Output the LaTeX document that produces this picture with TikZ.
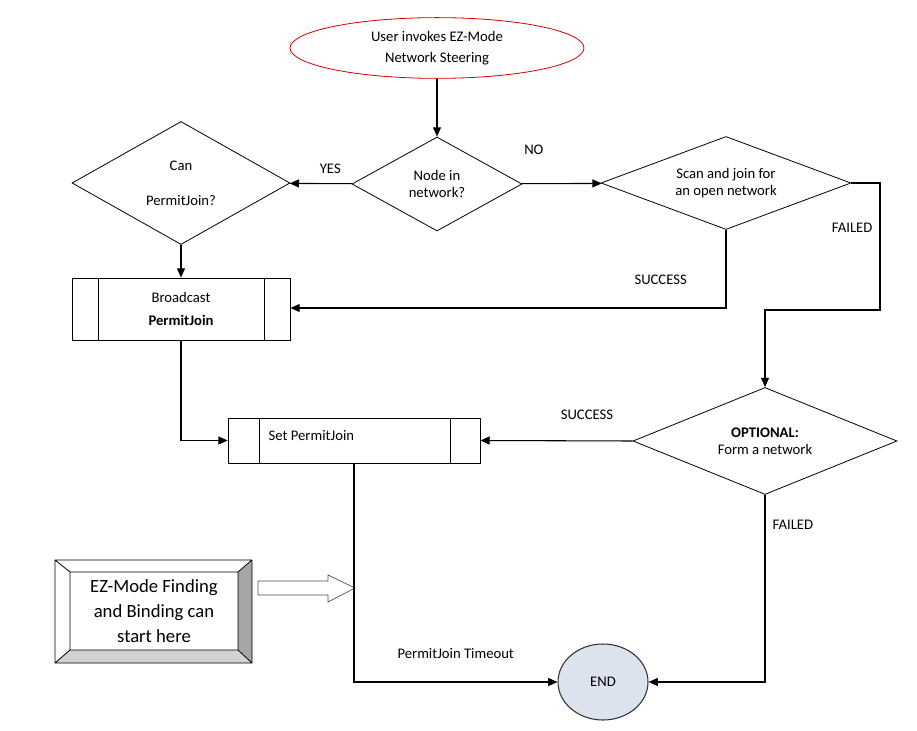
\documentclass[tikz,border=0pt]{standalone}
\usepackage{fontspec}
\setmainfont{Carlito}
\usetikzlibrary{shapes.geometric,arrows.meta,positioning}
\tikzset{
  flow/.style = {draw, -{Triangle[length=7pt,width=6pt]}, line width=0.8pt},
  decision/.style = {diamond, draw, line width=0.6pt, aspect=1.8, inner sep=0pt, align=center, font=\fontsize{11}{13}\selectfont},
  process/.style = {draw, line width=0.6pt, align=center, font=\fontsize{11}{13}\selectfont},
  lbl/.style = {font=\fontsize{11}{13}\selectfont}
}
\begin{document}
\begin{tikzpicture}[x=0.75pt,y=-0.75pt]
\useasboundingbox (0,0) rectangle (917,731);
% start and end
\node[ellipse, draw=red!85!black, line width=0.6pt, minimum width=294*0.75pt, minimum height=56*0.75pt, align=center, font=\fontsize{11}{16}\selectfont] (start) at (437,48) {User invokes EZ-Mode\\Network Steering};
\node[ellipse, draw=black!80, fill={rgb,255:red,220;green,227;blue,238}, line width=0.8pt, minimum width=90*0.75pt, minimum height=76*0.75pt, lbl] (end) at (603,682) {END};
% decisions
\node[decision, minimum width=170*0.75pt, minimum height=94*0.75pt] (innet) at (437,184) {Node in\\network?};
\node[decision, minimum width=218*0.75pt, minimum height=123*0.75pt, font=\fontsize{11}{26}\selectfont] (canpj) at (181,183) {Can\\PermitJoin?};
\node[decision, minimum width=250*0.75pt, minimum height=93*0.75pt] (scan) at (726,183) {Scan and join for\\an open network};
\node[decision, minimum width=264*0.75pt, minimum height=107*0.75pt] (form) at (765,441) {\textbf{OPTIONAL:}\\Form a network};
% processes
\node[process, minimum width=218*0.75pt, minimum height=62*0.75pt, font=\fontsize{11}{17}\selectfont] (bcast) at (181,309) {Broadcast\\\textbf{PermitJoin}};
\draw[line width=0.6pt] (98,278) -- (98,340) (264,278) -- (264,340);
\node[process, minimum width=252*0.75pt, minimum height=45*0.75pt] (setpj) at (354,440.5) {};
\node[lbl, anchor=west] at (264,436) {Set PermitJoin};
\draw[line width=0.6pt] (259,418) -- (259,463) (450,418) -- (450,463);
% bevelled note
\fill[gray!35] (55,663) -- (70,650) -- (238,650) -- (252,663) -- cycle;
\fill[gray!70] (252,560) -- (238,572) -- (238,650) -- (252,663) -- cycle;
\draw[line width=0.6pt] (55,560) rectangle (252,663) (70,572) rectangle (238,650)
  (55,560) -- (70,572) (252,560) -- (238,572) (55,663) -- (70,650) (252,663) -- (238,650);
\node[align=center, font=\fontsize{14}{19}\selectfont] (note) at (154,611) {EZ-Mode Finding\\and Binding can\\start here};
\draw[draw=black!70, line width=0.5pt] (258,581) -- (328,581) -- (328,575) -- (355,588)
  -- (328,602) -- (328,595) -- (258,595) -- cycle;
% connectors
\coordinate (c1) at (726,308);
\coordinate (c2) at (880,183);
\coordinate (c3) at (880,310);
\coordinate (c4) at (765,310);
\draw[flow] (start) -- (innet);
\draw[flow] (innet) -- node[lbl, above, pos=0.35, yshift=4pt] {YES} (canpj);
\draw[flow] (innet) -- node[lbl, above, pos=0.15, yshift=18pt] {NO} (scan);
\draw[flow] (scan.south) -- (c1) -- node[lbl, above, pos=0.15, yshift=14pt] {SUCCESS} (bcast.east |- c1);
\draw[flow] (scan.east) -- (c2) -- node[lbl, left, pos=0.35, xshift=-2pt] {FAILED} (c3) -- (c4) -- (form.north);
\draw[flow] (canpj) -- (bcast);
\draw[flow] (bcast.south) |- (setpj.west);
\draw[flow] (form.west) -- node[lbl, above, pos=0.3, yshift=12pt] {SUCCESS} (setpj.east);
\draw[flow] (form.south) |- node[lbl, right, pos=0.08, xshift=2pt] {FAILED} (end.east);
\draw[flow] (setpj.south) |- node[lbl, above, pos=0.75, yshift=14pt] {PermitJoin Timeout} (end.west);
\end{tikzpicture}
\end{document}
